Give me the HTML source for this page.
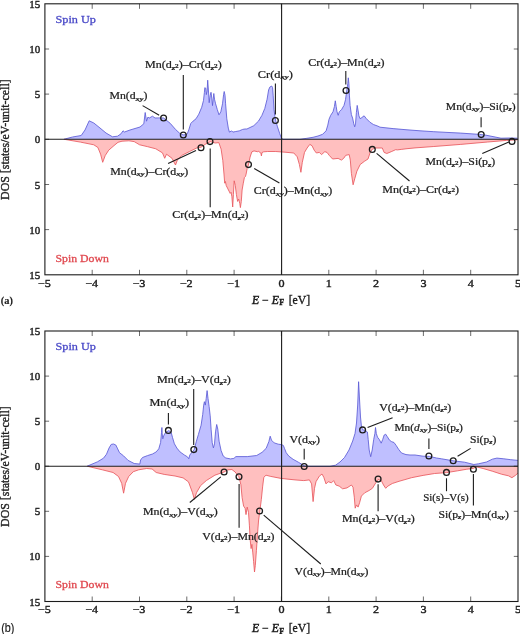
<!DOCTYPE html>
<html><head><meta charset="utf-8"><title>DOS</title>
<style>
html,body{margin:0;padding:0;background:#fff;}
body{width:520px;height:634px;overflow:hidden;}
svg{display:block;filter:blur(0.35px);}
text{font-family:"Liberation Serif",serif;fill:#1c1c1c;stroke:#1c1c1c;stroke-width:0.3px;}
.t{font-size:11px;stroke-width:0.4px;}
.l{font-size:9.8px;stroke-width:0.22px;}
.s{font-size:7px;font-style:italic;font-weight:bold;}
.ss{font-size:5.8px;font-style:normal;font-weight:bold;}
.ax{font-size:11.8px;stroke-width:0.35px;}
.sp{font-size:11.2px;}
.i{font-style:italic;}
.ib{font-style:italic;stroke-width:0.5px;}
</style></head><body>
<svg width="520" height="634" viewBox="0 0 520 634">
<rect width="520" height="634" fill="#fff"/>

<path d="M63.8 139.3L63.8 139.3L72.5 137.0L81.2 135.5L85.0 130.0L89.2 120.8L93.8 123.0L100.0 128.0L106.0 133.0L112.5 136.8L117.5 136.2L121.0 133.8L123.0 130.8L124.5 132.0L130.0 130.0L140.0 127.0L143.8 123.8L145.2 112.5L146.5 121.2L148.0 117.0L149.0 118.2L152.5 116.2L155.0 118.0L158.8 117.9L163.6 118.0L170.2 123.3L175.6 129.5L179.6 133.2L183.1 134.9L186.6 134.6L187.6 133.0L189.0 129.2L190.8 123.4L193.1 121.1L196.0 118.8L198.8 114.2L201.7 107.3L203.5 100.4L204.4 92.3L204.8 87.7L205.8 88.3L206.3 94.6L207.1 91.1L207.7 80.2L208.4 90.0L209.2 102.7L210.1 95.8L211.0 92.3L211.8 98.1L212.5 105.6L213.3 98.1L213.8 93.5L214.5 99.2L215.6 103.8L217.3 109.6L219.0 114.8L220.8 111.9L222.5 103.8L223.6 94.6L224.2 91.5L225.0 95.2L225.6 103.8L226.8 118.8L228.3 128.1L229.4 132.1L231.7 130.9L232.9 132.1L235.8 131.5L239.2 130.9L242.7 129.4L245.0 129.0L246.9 129.0L253.8 125.7L258.5 121.1L261.9 115.4L264.8 108.4L267.1 99.2L268.6 90.0L269.8 87.1L271.7 86.0L272.6 87.7L273.2 95.8L274.0 109.6L274.9 116.5L275.8 121.1L277.5 126.9L279.8 133.8L281.3 137.9L283.0 139.3L300.0 139.3L306.9 138.3L313.0 137.3L318.0 136.0L322.6 134.3L326.1 130.8L327.8 125.1L329.0 119.3L330.7 115.3L333.0 111.8L334.4 106.6L335.3 100.8L336.2 106.6L337.0 111.8L338.2 115.3L339.3 111.8L341.6 109.5L344.0 105.4L345.5 99.7L346.3 93.9L347.8 83.5L348.3 77.8L348.9 83.5L349.4 95.1L350.1 105.4L351.4 114.7L352.6 118.1L353.8 123.9L354.7 126.8L355.5 123.9L356.4 112.4L357.2 105.4L358.0 110.1L358.9 115.8L360.1 118.7L361.8 117.6L364.1 115.8L366.4 118.7L369.9 122.2L373.4 124.5L378.0 126.2L380.0 127.2L393.1 128.6L407.0 129.8L420.0 130.8L433.8 131.7L447.0 132.4L460.8 133.1L479.6 134.4L486.0 135.2L493.0 136.6L501.0 138.2L509.0 138.0L517.5 138.2L517.5 139.3 Z" fill="#bfbfff" stroke="none"/>
<path d="M64.2 139.3L64.2 139.3L80.4 142.1L93.8 144.8L97.9 147.5L100.6 154.2L102.7 162.3L105.2 155.6L108.7 150.2L114.0 145.6L118.0 142.3L122.0 141.2L128.9 140.8L134.2 141.6L139.6 144.8L147.7 146.7L155.8 148.8L162.5 152.9L164.7 158.3L166.5 154.2L172.0 158.3L175.5 165.0L177.4 160.0L181.5 155.6L189.6 151.5L197.7 147.5L201.0 147.2L205.8 144.0L210.3 141.6L215.2 143.0L218.8 142.6L221.1 149.1L222.8 160.5L223.9 173.0L224.7 183.2L225.4 181.5L226.2 185.5L227.9 188.9L230.2 193.4L231.1 192.3L231.9 196.8L232.7 207.0L233.4 194.5L234.2 180.8L235.3 185.5L236.4 194.5L237.6 201.4L238.7 199.1L239.8 203.6L240.4 207.6L241.3 201.4L242.1 190.0L243.3 183.2L244.4 177.5L245.5 176.4L246.1 174.1L247.2 168.4L248.4 165.0L250.1 157.0L251.8 151.9L254.0 150.9L257.5 151.7L258.6 151.4L260.9 153.1L261.4 155.9L262.0 152.5L263.7 151.8L267.7 151.5L275.8 151.5L285.0 152.2L293.8 153.0L297.2 156.8L299.4 164.5L300.9 172.3L302.3 162.3L304.5 152.4L307.1 148.0L309.8 144.4L312.0 145.7L314.2 150.2L316.4 153.0L319.3 152.4L321.5 154.6L324.8 151.7L327.0 152.4L329.2 155.3L332.6 159.0L338.1 158.4L341.4 160.1L343.6 158.4L345.8 155.3L349.2 154.6L350.3 160.1L351.4 173.4L353.1 184.8L354.7 178.9L356.9 171.2L360.2 164.5L364.6 161.2L368.0 159.0L370.2 152.4L372.4 149.1L375.7 148.0L382.3 148.0L384.1 152.4L386.8 153.5L391.2 151.7L395.6 149.7L397.5 149.9L401.2 149.4L407.0 148.7L415.0 147.9L433.8 146.5L460.8 144.4L487.7 142.0L506.5 140.4L517.5 139.8L517.5 139.3 Z" fill="#ffbfbf" stroke="none"/>
<path d="M63.8 139.3L72.5 137.0L81.2 135.5L85.0 130.0L89.2 120.8L93.8 123.0L100.0 128.0L106.0 133.0L112.5 136.8L117.5 136.2L121.0 133.8L123.0 130.8L124.5 132.0L130.0 130.0L140.0 127.0L143.8 123.8L145.2 112.5L146.5 121.2L148.0 117.0L149.0 118.2L152.5 116.2L155.0 118.0L158.8 117.9L163.6 118.0L170.2 123.3L175.6 129.5L179.6 133.2L183.1 134.9L186.6 134.6L187.6 133.0L189.0 129.2L190.8 123.4L193.1 121.1L196.0 118.8L198.8 114.2L201.7 107.3L203.5 100.4L204.4 92.3L204.8 87.7L205.8 88.3L206.3 94.6L207.1 91.1L207.7 80.2L208.4 90.0L209.2 102.7L210.1 95.8L211.0 92.3L211.8 98.1L212.5 105.6L213.3 98.1L213.8 93.5L214.5 99.2L215.6 103.8L217.3 109.6L219.0 114.8L220.8 111.9L222.5 103.8L223.6 94.6L224.2 91.5L225.0 95.2L225.6 103.8L226.8 118.8L228.3 128.1L229.4 132.1L231.7 130.9L232.9 132.1L235.8 131.5L239.2 130.9L242.7 129.4L245.0 129.0L246.9 129.0L253.8 125.7L258.5 121.1L261.9 115.4L264.8 108.4L267.1 99.2L268.6 90.0L269.8 87.1L271.7 86.0L272.6 87.7L273.2 95.8L274.0 109.6L274.9 116.5L275.8 121.1L277.5 126.9L279.8 133.8L281.3 137.9L283.0 139.3L300.0 139.3L306.9 138.3L313.0 137.3L318.0 136.0L322.6 134.3L326.1 130.8L327.8 125.1L329.0 119.3L330.7 115.3L333.0 111.8L334.4 106.6L335.3 100.8L336.2 106.6L337.0 111.8L338.2 115.3L339.3 111.8L341.6 109.5L344.0 105.4L345.5 99.7L346.3 93.9L347.8 83.5L348.3 77.8L348.9 83.5L349.4 95.1L350.1 105.4L351.4 114.7L352.6 118.1L353.8 123.9L354.7 126.8L355.5 123.9L356.4 112.4L357.2 105.4L358.0 110.1L358.9 115.8L360.1 118.7L361.8 117.6L364.1 115.8L366.4 118.7L369.9 122.2L373.4 124.5L378.0 126.2L380.0 127.2L393.1 128.6L407.0 129.8L420.0 130.8L433.8 131.7L447.0 132.4L460.8 133.1L479.6 134.4L486.0 135.2L493.0 136.6L501.0 138.2L509.0 138.0L517.5 138.2" fill="none" stroke="#5c5cd6" stroke-width="0.85" stroke-linejoin="round"/>
<path d="M64.2 139.3L80.4 142.1L93.8 144.8L97.9 147.5L100.6 154.2L102.7 162.3L105.2 155.6L108.7 150.2L114.0 145.6L118.0 142.3L122.0 141.2L128.9 140.8L134.2 141.6L139.6 144.8L147.7 146.7L155.8 148.8L162.5 152.9L164.7 158.3L166.5 154.2L172.0 158.3L175.5 165.0L177.4 160.0L181.5 155.6L189.6 151.5L197.7 147.5L201.0 147.2L205.8 144.0L210.3 141.6L215.2 143.0L218.8 142.6L221.1 149.1L222.8 160.5L223.9 173.0L224.7 183.2L225.4 181.5L226.2 185.5L227.9 188.9L230.2 193.4L231.1 192.3L231.9 196.8L232.7 207.0L233.4 194.5L234.2 180.8L235.3 185.5L236.4 194.5L237.6 201.4L238.7 199.1L239.8 203.6L240.4 207.6L241.3 201.4L242.1 190.0L243.3 183.2L244.4 177.5L245.5 176.4L246.1 174.1L247.2 168.4L248.4 165.0L250.1 157.0L251.8 151.9L254.0 150.9L257.5 151.7L258.6 151.4L260.9 153.1L261.4 155.9L262.0 152.5L263.7 151.8L267.7 151.5L275.8 151.5L285.0 152.2L293.8 153.0L297.2 156.8L299.4 164.5L300.9 172.3L302.3 162.3L304.5 152.4L307.1 148.0L309.8 144.4L312.0 145.7L314.2 150.2L316.4 153.0L319.3 152.4L321.5 154.6L324.8 151.7L327.0 152.4L329.2 155.3L332.6 159.0L338.1 158.4L341.4 160.1L343.6 158.4L345.8 155.3L349.2 154.6L350.3 160.1L351.4 173.4L353.1 184.8L354.7 178.9L356.9 171.2L360.2 164.5L364.6 161.2L368.0 159.0L370.2 152.4L372.4 149.1L375.7 148.0L382.3 148.0L384.1 152.4L386.8 153.5L391.2 151.7L395.6 149.7L397.5 149.9L401.2 149.4L407.0 148.7L415.0 147.9L433.8 146.5L460.8 144.4L487.7 142.0L506.5 140.4L517.5 139.8" fill="none" stroke="#e8595f" stroke-width="0.85" stroke-linejoin="round"/>
<path d="M44.9 139.3H518.0 M281.6 3.8V274.8" stroke="#1c1c1c" stroke-width="1.1" fill="none"/>
<rect x="44.9" y="3.8" width="473.1" height="271.0" fill="none" stroke="#1c1c1c" stroke-width="1.1"/>
<path d="M92.2 274.8v-5 M92.2 3.8v5 M139.5 274.8v-5 M139.5 3.8v5 M186.8 274.8v-5 M186.8 3.8v5 M234.1 274.8v-5 M234.1 3.8v5 M281.4 274.8v-5 M281.4 3.8v5 M328.8 274.8v-5 M328.8 3.8v5 M376.1 274.8v-5 M376.1 3.8v5 M423.4 274.8v-5 M423.4 3.8v5 M470.7 274.8v-5 M470.7 3.8v5 M44.9 49.0h4.2 M518.0 49.0h-4.2 M44.9 94.1h4.2 M518.0 94.1h-4.2 M44.9 139.3h4.2 M518.0 139.3h-4.2 M44.9 184.5h4.2 M518.0 184.5h-4.2 M44.9 229.6h4.2 M518.0 229.6h-4.2 " stroke="#1c1c1c" stroke-width="0.65" fill="none"/>
<g transform="translate(44.3 286.7) scale(1.1 1)"><text class="t" text-anchor="middle">−5</text></g>
<g transform="translate(91.6 286.7) scale(1.1 1)"><text class="t" text-anchor="middle">−4</text></g>
<g transform="translate(138.9 286.7) scale(1.1 1)"><text class="t" text-anchor="middle">−3</text></g>
<g transform="translate(186.2 286.7) scale(1.1 1)"><text class="t" text-anchor="middle">−2</text></g>
<g transform="translate(233.5 286.7) scale(1.1 1)"><text class="t" text-anchor="middle">−1</text></g>
<g transform="translate(281.4 286.7) scale(1.1 1)"><text class="t" text-anchor="middle">0</text></g>
<g transform="translate(328.8 286.7) scale(1.1 1)"><text class="t" text-anchor="middle">1</text></g>
<g transform="translate(376.1 286.7) scale(1.1 1)"><text class="t" text-anchor="middle">2</text></g>
<g transform="translate(423.4 286.7) scale(1.1 1)"><text class="t" text-anchor="middle">3</text></g>
<g transform="translate(470.7 286.7) scale(1.1 1)"><text class="t" text-anchor="middle">4</text></g>
<g transform="translate(518.0 286.7) scale(1.1 1)"><text class="t" text-anchor="middle">5</text></g>
<text class="t" x="40.3" y="7.8" text-anchor="end">15</text>
<text class="t" x="40.3" y="53.0" text-anchor="end">10</text>
<text class="t" x="40.3" y="98.1" text-anchor="end">5</text>
<text class="t" x="40.3" y="143.3" text-anchor="end">0</text>
<text class="t" x="40.3" y="188.5" text-anchor="end">5</text>
<text class="t" x="40.3" y="233.6" text-anchor="end">10</text>
<text class="t" x="40.3" y="278.8" text-anchor="end">15</text>
<g transform="translate(9.3 199.9) rotate(-90) scale(1.0069 1)"><text id="t1" class="ax">DOS [states/eV-unit-cell]</text></g>
<g transform="translate(252.00 303.60) scale(0.9942 1)"><text id="t2" class="ax"><tspan class="ib">E</tspan> − <tspan class="ib">E</tspan><tspan dy="1.8" dx="0.4" font-size="8.2" font-weight="bold">F</tspan><tspan dy="-1.8" dx="1.6"> [eV]</tspan></text></g>
<g transform="translate(55.50 23.00) scale(1.0911 1)"><text id="t3" class="sp" style="fill:#4a4ac8;stroke:#4a4ac8">Spin Up</text></g>
<g transform="translate(55.50 261.50) scale(1.0535 1)"><text id="t4" class="sp" style="fill:#e0484f;stroke:#e0484f">Spin Down</text></g>
<g transform="translate(0.80 304.00) scale(0.9420 1)"><text id="t5" class="t" font-weight="bold" style="stroke-width:0.15px">(a)</text></g>
<circle cx="163.6" cy="118.0" r="2.9" fill="none" stroke="#1c1c1c" stroke-width="1.3"/>
<circle cx="183.3" cy="135.0" r="2.9" fill="none" stroke="#1c1c1c" stroke-width="1.3"/>
<circle cx="275.4" cy="120.5" r="2.9" fill="none" stroke="#1c1c1c" stroke-width="1.3"/>
<circle cx="346.0" cy="90.5" r="2.9" fill="none" stroke="#1c1c1c" stroke-width="1.3"/>
<circle cx="481.2" cy="134.6" r="2.9" fill="none" stroke="#1c1c1c" stroke-width="1.3"/>
<circle cx="512.0" cy="141.4" r="2.9" fill="none" stroke="#1c1c1c" stroke-width="1.3"/>
<circle cx="201.0" cy="147.8" r="2.9" fill="none" stroke="#1c1c1c" stroke-width="1.3"/>
<circle cx="210.0" cy="141.6" r="2.9" fill="none" stroke="#1c1c1c" stroke-width="1.3"/>
<circle cx="248.5" cy="164.6" r="2.9" fill="none" stroke="#1c1c1c" stroke-width="1.3"/>
<circle cx="372.3" cy="149.4" r="2.9" fill="none" stroke="#1c1c1c" stroke-width="1.3"/>
<path d="M142.6 105.6L159.2 115.3" stroke="#1c1c1c" stroke-width="1.1" fill="none"/>
<path d="M183.3 75.0L183.3 129.5" stroke="#1c1c1c" stroke-width="1.1" fill="none"/>
<path d="M275.4 83.4L275.4 114.5" stroke="#1c1c1c" stroke-width="1.1" fill="none"/>
<path d="M345.8 71.0L345.8 84.5" stroke="#1c1c1c" stroke-width="1.1" fill="none"/>
<path d="M481.1 117.2L481.1 127.2" stroke="#1c1c1c" stroke-width="1.1" fill="none"/>
<path d="M482.3 153.4L508.9 142.1" stroke="#1c1c1c" stroke-width="1.1" fill="none"/>
<path d="M168.1 163.5L196.0 150.4" stroke="#1c1c1c" stroke-width="1.1" fill="none"/>
<path d="M210.2 148.5L210.2 207.3" stroke="#1c1c1c" stroke-width="1.1" fill="none"/>
<path d="M254.2 168.4L279.4 183.0" stroke="#1c1c1c" stroke-width="1.1" fill="none"/>
<path d="M376.6 153.3L409.5 181.0" stroke="#1c1c1c" stroke-width="1.1" fill="none"/>
<g transform="translate(109.50 99.30) scale(1.2004 1)"><text id="t6" class="l">Mn(d<tspan class="s" dy="1.6">xy</tspan><tspan dy="-1.6">)</tspan></text></g>
<g transform="translate(145.00 68.20) scale(1.2297 1)"><text id="t7" class="l">Mn(d<tspan class="s" dy="1.6">z</tspan><tspan class="s ss" dy="-1.7">2</tspan><tspan dy="0.1">)</tspan>–Cr(d<tspan class="s" dy="1.6">z</tspan><tspan class="s ss" dy="-1.7">2</tspan><tspan dy="0.1">)</tspan></text></g>
<g transform="translate(257.80 77.50) scale(1.2606 1)"><text id="t8" class="l">Cr(d<tspan class="s" dy="1.6">xy</tspan><tspan dy="-1.6">)</tspan></text></g>
<g transform="translate(308.30 66.20) scale(1.2217 1)"><text id="t9" class="l">Cr(d<tspan class="s" dy="1.6">z</tspan><tspan class="s ss" dy="-1.7">2</tspan><tspan dy="0.1">)</tspan>–Mn(d<tspan class="s" dy="1.6">z</tspan><tspan class="s ss" dy="-1.7">2</tspan><tspan dy="0.1">)</tspan></text></g>
<g transform="translate(445.80 109.60) scale(1.1886 1)"><text id="t10" class="l">Mn(d<tspan class="s" dy="1.6">xy</tspan><tspan dy="-1.6">)</tspan>–Si(p<tspan class="s" dy="1.6">z</tspan><tspan dy="-1.6">)</tspan></text></g>
<g transform="translate(425.60 165.00) scale(1.2033 1)"><text id="t11" class="l">Mn(d<tspan class="s" dy="1.6">z</tspan><tspan class="s ss" dy="-1.7">2</tspan><tspan dy="0.1">)</tspan>–Si(p<tspan class="s" dy="1.6">z</tspan><tspan dy="-1.6">)</tspan></text></g>
<g transform="translate(110.20 174.50) scale(1.2129 1)"><text id="t12" class="l">Mn(d<tspan class="s" dy="1.6">xy</tspan><tspan dy="-1.6">)</tspan>–Cr(d<tspan class="s" dy="1.6">xy</tspan><tspan dy="-1.6">)</tspan></text></g>
<g transform="translate(172.30 218.20) scale(1.2217 1)"><text id="t13" class="l">Cr(d<tspan class="s" dy="1.6">z</tspan><tspan class="s ss" dy="-1.7">2</tspan><tspan dy="0.1">)</tspan>–Mn(d<tspan class="s" dy="1.6">z</tspan><tspan class="s ss" dy="-1.7">2</tspan><tspan dy="0.1">)</tspan></text></g>
<g transform="translate(253.80 194.10) scale(1.2176 1)"><text id="t14" class="l">Cr(d<tspan class="s" dy="1.6">xy</tspan><tspan dy="-1.6">)</tspan>–Mn(d<tspan class="s" dy="1.6">xy</tspan><tspan dy="-1.6">)</tspan></text></g>
<g transform="translate(382.20 192.50) scale(1.2313 1)"><text id="t15" class="l">Mn(d<tspan class="s" dy="1.6">z</tspan><tspan class="s ss" dy="-1.7">2</tspan><tspan dy="0.1">)</tspan>–Cr(d<tspan class="s" dy="1.6">z</tspan><tspan class="s ss" dy="-1.7">2</tspan><tspan dy="0.1">)</tspan></text></g>
<path d="M86.9 466.3L86.9 466.3L97.3 461.9L103.5 458.2L106.5 454.2L109.0 448.1L111.2 444.4L113.5 444.0L115.8 445.0L117.3 448.1L119.5 452.7L123.5 455.8L128.1 460.4L134.2 463.5L139.8 464.1L140.6 460.0L142.5 457.5L147.5 455.6L152.5 454.0L156.2 451.9L158.8 448.8L160.6 442.5L161.5 432.5L161.9 427.5L162.2 433.8L162.8 438.8L164.0 435.0L165.6 432.5L168.8 430.6L171.2 432.5L172.5 437.5L174.4 443.8L176.9 448.1L180.0 451.9L184.4 455.0L187.5 456.9L188.8 458.8L189.8 455.0L191.7 452.6L194.1 449.9L196.4 441.2L198.4 434.5L201.1 425.2L202.7 414.5L203.7 405.1L204.4 401.7L205.3 405.1L206.2 398.4L207.1 390.6L208.0 398.4L209.1 406.4L210.2 415.8L211.1 429.2L212.2 442.6L213.4 447.9L214.5 443.9L215.5 431.9L216.7 424.5L217.8 429.2L219.1 441.2L221.1 450.6L223.2 456.0L225.8 458.0L230.5 458.9L233.9 458.4L235.9 456.6L247.3 456.6L256.7 455.5L262.1 452.3L266.2 448.3L268.9 441.5L270.2 436.2L271.5 440.2L274.2 442.9L278.3 444.2L281.4 444.6L283.3 445.4L284.5 448.4L286.2 452.7L288.8 456.1L293.1 459.3L298.3 462.2L302.7 464.8L304.1 465.8L310.0 466.3L330.0 466.3L335.6 465.2L340.0 462.0L344.5 457.5L349.0 450.0L352.7 441.0L355.0 433.5L356.5 423.0L357.7 405.0L358.6 381.7L359.5 399.0L360.5 417.0L361.4 426.0L362.5 429.7L365.5 430.5L367.4 432.0L368.2 439.5L369.2 450.0L370.7 456.7L372.2 450.0L373.7 439.5L374.9 433.5L375.5 427.5L376.3 433.5L377.5 437.2L379.3 439.5L381.2 443.2L382.7 439.5L384.2 435.0L385.7 434.2L387.2 436.5L389.5 440.2L391.7 441.7L394.0 442.5L396.2 445.5L398.5 449.2L401.5 453.0L406.0 454.6L410.0 455.0L415.0 455.0L423.1 456.2L429.3 456.4L436.5 458.0L441.5 458.8L453.1 460.8L464.6 462.2L473.8 464.5L478.5 463.8L486.5 462.0L492.3 459.2L496.9 458.1L503.8 458.8L510.8 459.7L518.0 460.4L518.0 466.3 Z" fill="#bfbfff" stroke="none"/>
<path d="M87.5 466.3L87.5 466.3L102.3 469.8L113.1 472.5L118.5 476.5L121.7 483.3L123.6 493.2L125.5 483.3L128.7 476.5L133.3 471.7L138.7 469.8L146.7 468.5L152.1 469.0L156.2 472.5L164.2 474.4L175.0 476.0L183.1 477.9L188.5 481.9L192.5 492.7L194.4 499.4L196.5 492.7L200.6 485.6L206.4 480.5L214.9 475.2L224.0 472.0L227.7 469.9L231.9 469.5L235.1 472.0L238.9 476.7L240.9 484.8L242.1 497.6L243.6 506.1L245.1 508.2L246.0 514.6L247.2 507.1L248.5 512.4L249.4 525.2L250.2 540.1L251.1 548.6L251.9 544.4L252.8 552.9L253.6 561.4L254.5 572.0L255.3 565.6L256.4 550.7L257.4 535.9L258.5 521.0L259.8 511.2L261.3 499.7L262.6 486.9L263.8 477.3L266.0 475.2L270.2 476.3L280.9 478.4L295.0 479.9L303.8 480.6L309.4 479.9L311.6 483.9L313.1 501.6L314.5 488.3L316.0 481.7L319.3 476.2L322.0 474.0L323.8 477.3L326.0 483.9L328.2 481.7L331.5 482.8L333.7 480.6L335.9 485.0L339.2 486.1L342.6 488.8L347.0 487.9L351.4 485.0L353.0 487.2L354.3 497.2L355.2 508.2L356.5 504.9L358.1 507.1L359.6 502.7L361.4 496.1L364.7 492.8L369.1 490.5L372.4 488.3L375.1 483.9L378.0 479.5L381.3 480.6L383.5 485.0L385.7 488.3L387.9 486.1L392.3 483.5L399.0 481.3L405.0 479.6L411.5 477.7L423.1 475.4L434.6 473.5L446.6 472.6L457.7 470.8L466.9 469.2L473.4 468.4L476.2 466.8L483.1 468.5L492.3 471.2L501.5 474.2L508.5 475.8L511.9 477.7L515.4 475.4L518.0 473.0L518.0 466.3 Z" fill="#ffbfbf" stroke="none"/>
<path d="M86.9 466.3L97.3 461.9L103.5 458.2L106.5 454.2L109.0 448.1L111.2 444.4L113.5 444.0L115.8 445.0L117.3 448.1L119.5 452.7L123.5 455.8L128.1 460.4L134.2 463.5L139.8 464.1L140.6 460.0L142.5 457.5L147.5 455.6L152.5 454.0L156.2 451.9L158.8 448.8L160.6 442.5L161.5 432.5L161.9 427.5L162.2 433.8L162.8 438.8L164.0 435.0L165.6 432.5L168.8 430.6L171.2 432.5L172.5 437.5L174.4 443.8L176.9 448.1L180.0 451.9L184.4 455.0L187.5 456.9L188.8 458.8L189.8 455.0L191.7 452.6L194.1 449.9L196.4 441.2L198.4 434.5L201.1 425.2L202.7 414.5L203.7 405.1L204.4 401.7L205.3 405.1L206.2 398.4L207.1 390.6L208.0 398.4L209.1 406.4L210.2 415.8L211.1 429.2L212.2 442.6L213.4 447.9L214.5 443.9L215.5 431.9L216.7 424.5L217.8 429.2L219.1 441.2L221.1 450.6L223.2 456.0L225.8 458.0L230.5 458.9L233.9 458.4L235.9 456.6L247.3 456.6L256.7 455.5L262.1 452.3L266.2 448.3L268.9 441.5L270.2 436.2L271.5 440.2L274.2 442.9L278.3 444.2L281.4 444.6L283.3 445.4L284.5 448.4L286.2 452.7L288.8 456.1L293.1 459.3L298.3 462.2L302.7 464.8L304.1 465.8L310.0 466.3L330.0 466.3L335.6 465.2L340.0 462.0L344.5 457.5L349.0 450.0L352.7 441.0L355.0 433.5L356.5 423.0L357.7 405.0L358.6 381.7L359.5 399.0L360.5 417.0L361.4 426.0L362.5 429.7L365.5 430.5L367.4 432.0L368.2 439.5L369.2 450.0L370.7 456.7L372.2 450.0L373.7 439.5L374.9 433.5L375.5 427.5L376.3 433.5L377.5 437.2L379.3 439.5L381.2 443.2L382.7 439.5L384.2 435.0L385.7 434.2L387.2 436.5L389.5 440.2L391.7 441.7L394.0 442.5L396.2 445.5L398.5 449.2L401.5 453.0L406.0 454.6L410.0 455.0L415.0 455.0L423.1 456.2L429.3 456.4L436.5 458.0L441.5 458.8L453.1 460.8L464.6 462.2L473.8 464.5L478.5 463.8L486.5 462.0L492.3 459.2L496.9 458.1L503.8 458.8L510.8 459.7L518.0 460.4" fill="none" stroke="#5c5cd6" stroke-width="0.85" stroke-linejoin="round"/>
<path d="M87.5 466.3L102.3 469.8L113.1 472.5L118.5 476.5L121.7 483.3L123.6 493.2L125.5 483.3L128.7 476.5L133.3 471.7L138.7 469.8L146.7 468.5L152.1 469.0L156.2 472.5L164.2 474.4L175.0 476.0L183.1 477.9L188.5 481.9L192.5 492.7L194.4 499.4L196.5 492.7L200.6 485.6L206.4 480.5L214.9 475.2L224.0 472.0L227.7 469.9L231.9 469.5L235.1 472.0L238.9 476.7L240.9 484.8L242.1 497.6L243.6 506.1L245.1 508.2L246.0 514.6L247.2 507.1L248.5 512.4L249.4 525.2L250.2 540.1L251.1 548.6L251.9 544.4L252.8 552.9L253.6 561.4L254.5 572.0L255.3 565.6L256.4 550.7L257.4 535.9L258.5 521.0L259.8 511.2L261.3 499.7L262.6 486.9L263.8 477.3L266.0 475.2L270.2 476.3L280.9 478.4L295.0 479.9L303.8 480.6L309.4 479.9L311.6 483.9L313.1 501.6L314.5 488.3L316.0 481.7L319.3 476.2L322.0 474.0L323.8 477.3L326.0 483.9L328.2 481.7L331.5 482.8L333.7 480.6L335.9 485.0L339.2 486.1L342.6 488.8L347.0 487.9L351.4 485.0L353.0 487.2L354.3 497.2L355.2 508.2L356.5 504.9L358.1 507.1L359.6 502.7L361.4 496.1L364.7 492.8L369.1 490.5L372.4 488.3L375.1 483.9L378.0 479.5L381.3 480.6L383.5 485.0L385.7 488.3L387.9 486.1L392.3 483.5L399.0 481.3L405.0 479.6L411.5 477.7L423.1 475.4L434.6 473.5L446.6 472.6L457.7 470.8L466.9 469.2L473.4 468.4L476.2 466.8L483.1 468.5L492.3 471.2L501.5 474.2L508.5 475.8L511.9 477.7L515.4 475.4L518.0 473.0" fill="none" stroke="#e8595f" stroke-width="0.85" stroke-linejoin="round"/>
<path d="M44.9 466.3H518.0 M281.6 331.0V601.5" stroke="#1c1c1c" stroke-width="1.1" fill="none"/>
<rect x="44.9" y="331.0" width="473.1" height="270.5" fill="none" stroke="#1c1c1c" stroke-width="1.1"/>
<path d="M92.2 601.5v-5 M92.2 331.0v5 M139.5 601.5v-5 M139.5 331.0v5 M186.8 601.5v-5 M186.8 331.0v5 M234.1 601.5v-5 M234.1 331.0v5 M281.4 601.5v-5 M281.4 331.0v5 M328.8 601.5v-5 M328.8 331.0v5 M376.1 601.5v-5 M376.1 331.0v5 M423.4 601.5v-5 M423.4 331.0v5 M470.7 601.5v-5 M470.7 331.0v5 M44.9 376.1h4.2 M518.0 376.1h-4.2 M44.9 421.2h4.2 M518.0 421.2h-4.2 M44.9 466.2h4.2 M518.0 466.2h-4.2 M44.9 511.3h4.2 M518.0 511.3h-4.2 M44.9 556.4h4.2 M518.0 556.4h-4.2 " stroke="#1c1c1c" stroke-width="0.65" fill="none"/>
<g transform="translate(44.3 613.4) scale(1.1 1)"><text class="t" text-anchor="middle">−5</text></g>
<g transform="translate(91.6 613.4) scale(1.1 1)"><text class="t" text-anchor="middle">−4</text></g>
<g transform="translate(138.9 613.4) scale(1.1 1)"><text class="t" text-anchor="middle">−3</text></g>
<g transform="translate(186.2 613.4) scale(1.1 1)"><text class="t" text-anchor="middle">−2</text></g>
<g transform="translate(233.5 613.4) scale(1.1 1)"><text class="t" text-anchor="middle">−1</text></g>
<g transform="translate(281.4 613.4) scale(1.1 1)"><text class="t" text-anchor="middle">0</text></g>
<g transform="translate(328.8 613.4) scale(1.1 1)"><text class="t" text-anchor="middle">1</text></g>
<g transform="translate(376.1 613.4) scale(1.1 1)"><text class="t" text-anchor="middle">2</text></g>
<g transform="translate(423.4 613.4) scale(1.1 1)"><text class="t" text-anchor="middle">3</text></g>
<g transform="translate(470.7 613.4) scale(1.1 1)"><text class="t" text-anchor="middle">4</text></g>
<g transform="translate(518.0 613.4) scale(1.1 1)"><text class="t" text-anchor="middle">5</text></g>
<text class="t" x="40.3" y="335.0" text-anchor="end">15</text>
<text class="t" x="40.3" y="380.1" text-anchor="end">10</text>
<text class="t" x="40.3" y="425.2" text-anchor="end">5</text>
<text class="t" x="40.3" y="470.2" text-anchor="end">0</text>
<text class="t" x="40.3" y="515.3" text-anchor="end">5</text>
<text class="t" x="40.3" y="560.4" text-anchor="end">10</text>
<text class="t" x="40.3" y="605.5" text-anchor="end">15</text>
<g transform="translate(9.3 526.9) rotate(-90) scale(1.0069 1)"><text id="t16" class="ax">DOS [states/eV-unit-cell]</text></g>
<g transform="translate(252.00 631.90) scale(0.9942 1)"><text id="t17" class="ax"><tspan class="ib">E</tspan> − <tspan class="ib">E</tspan><tspan dy="1.8" dx="0.4" font-size="8.2" font-weight="bold">F</tspan><tspan dy="-1.8" dx="1.6"> [eV]</tspan></text></g>
<g transform="translate(55.50 350.00) scale(1.0911 1)"><text id="t18" class="sp" style="fill:#4a4ac8;stroke:#4a4ac8">Spin Up</text></g>
<g transform="translate(55.50 588.30) scale(1.0535 1)"><text id="t19" class="sp" style="fill:#e0484f;stroke:#e0484f">Spin Down</text></g>
<g transform="translate(1.20 632.40) scale(0.8997 1)"><text id="t20" class="t" style="font-family:'Liberation Sans',sans-serif;font-size:12px;stroke-width:0.2px">(b)</text></g>
<circle cx="168.4" cy="430.4" r="2.9" fill="none" stroke="#1c1c1c" stroke-width="1.3"/>
<circle cx="193.8" cy="449.6" r="2.9" fill="none" stroke="#1c1c1c" stroke-width="1.3"/>
<circle cx="304.2" cy="466.5" r="2.9" fill="none" stroke="#1c1c1c" stroke-width="1.3"/>
<circle cx="362.6" cy="429.9" r="2.9" fill="none" stroke="#1c1c1c" stroke-width="1.3"/>
<circle cx="428.9" cy="456.0" r="2.9" fill="none" stroke="#1c1c1c" stroke-width="1.3"/>
<circle cx="453.2" cy="460.8" r="2.9" fill="none" stroke="#1c1c1c" stroke-width="1.3"/>
<circle cx="446.5" cy="472.4" r="2.9" fill="none" stroke="#1c1c1c" stroke-width="1.3"/>
<circle cx="473.4" cy="469.2" r="2.9" fill="none" stroke="#1c1c1c" stroke-width="1.3"/>
<circle cx="224.1" cy="472.0" r="2.9" fill="none" stroke="#1c1c1c" stroke-width="1.3"/>
<circle cx="239.0" cy="476.7" r="2.9" fill="none" stroke="#1c1c1c" stroke-width="1.3"/>
<circle cx="259.6" cy="511.0" r="2.9" fill="none" stroke="#1c1c1c" stroke-width="1.3"/>
<circle cx="378.1" cy="479.1" r="2.9" fill="none" stroke="#1c1c1c" stroke-width="1.3"/>
<path d="M168.4 413.0L168.4 424.5" stroke="#1c1c1c" stroke-width="1.1" fill="none"/>
<path d="M193.7 389.0L193.7 445.0" stroke="#1c1c1c" stroke-width="1.1" fill="none"/>
<path d="M304.2 448.8L304.2 459.5" stroke="#1c1c1c" stroke-width="1.1" fill="none"/>
<path d="M367.6 427.5L392.6 417.8" stroke="#1c1c1c" stroke-width="1.1" fill="none"/>
<path d="M428.9 438.6L428.9 449.0" stroke="#1c1c1c" stroke-width="1.1" fill="none"/>
<path d="M457.6 456.2L470.6 448.4" stroke="#1c1c1c" stroke-width="1.1" fill="none"/>
<path d="M446.5 478.3L446.5 491.2" stroke="#1c1c1c" stroke-width="1.1" fill="none"/>
<path d="M473.4 474.0L473.4 505.5" stroke="#1c1c1c" stroke-width="1.1" fill="none"/>
<path d="M378.1 484.3L378.1 511.3" stroke="#1c1c1c" stroke-width="1.1" fill="none"/>
<path d="M189.8 502.5L220.8 476.8" stroke="#1c1c1c" stroke-width="1.1" fill="none"/>
<path d="M239.1 484.0L239.1 527.8" stroke="#1c1c1c" stroke-width="1.1" fill="none"/>
<path d="M263.7 515.2L320.8 564.0" stroke="#1c1c1c" stroke-width="1.1" fill="none"/>
<g transform="translate(157.00 383.10) scale(1.2371 1)"><text id="t21" class="l">Mn(d<tspan class="s" dy="1.6">z</tspan><tspan class="s ss" dy="-1.7">2</tspan><tspan dy="0.1">)</tspan>–V(d<tspan class="s" dy="1.6">z</tspan><tspan class="s ss" dy="-1.7">2</tspan><tspan dy="0.1">)</tspan></text></g>
<g transform="translate(149.40 406.20) scale(1.2541 1)"><text id="t22" class="l">Mn(d<tspan class="s" dy="1.6">xy</tspan><tspan dy="-1.6">)</tspan></text></g>
<g transform="translate(289.50 442.50) scale(1.2139 1)"><text id="t23" class="l">V(d<tspan class="s" dy="1.6">xy</tspan><tspan dy="-1.6">)</tspan></text></g>
<g transform="translate(379.20 410.50) scale(1.2070 1)"><text id="t24" class="l">V(d<tspan class="s" dy="1.6">z</tspan><tspan class="s ss" dy="-1.7">2</tspan><tspan dy="0.1">)</tspan>–Mn(d<tspan class="s" dy="1.6">z</tspan><tspan class="s ss" dy="-1.7">2</tspan><tspan dy="0.1">)</tspan></text></g>
<g transform="translate(394.50 430.80) scale(1.1632 1)"><text id="t25" class="l">Mn(<tspan class="i">d</tspan><tspan class="s" dy="1.6">xy</tspan><tspan dy="-1.6">)</tspan>–Si(p<tspan class="s" dy="1.6">z</tspan><tspan dy="-1.6">)</tspan></text></g>
<g transform="translate(470.00 442.50) scale(1.1771 1)"><text id="t26" class="l">Si(p<tspan class="s" dy="1.6">z</tspan><tspan dy="-1.6">)</tspan></text></g>
<g transform="translate(423.20 501.00) scale(1.1169 1)"><text id="t27" class="l">Si(s)–V(s)</text></g>
<g transform="translate(438.50 517.80) scale(1.1971 1)"><text id="t28" class="l">Si(p<tspan class="s" dy="1.6">z</tspan><tspan dy="-1.6">)</tspan>–Mn(d<tspan class="s" dy="1.6">xy</tspan><tspan dy="-1.6">)</tspan></text></g>
<g transform="translate(342.00 522.00) scale(1.2187 1)"><text id="t29" class="l">Mn(d<tspan class="s" dy="1.6">z</tspan><tspan class="s ss" dy="-1.7">2</tspan><tspan dy="0.1">)</tspan>–V(d<tspan class="s" dy="1.6">z</tspan><tspan class="s ss" dy="-1.7">2</tspan><tspan dy="0.1">)</tspan></text></g>
<g transform="translate(142.90 515.30) scale(1.2129 1)"><text id="t30" class="l">Mn(d<tspan class="s" dy="1.6">xy</tspan><tspan dy="-1.6">)</tspan>–V(d<tspan class="s" dy="1.6">xy</tspan><tspan dy="-1.6">)</tspan></text></g>
<g transform="translate(202.30 540.00) scale(1.2104 1)"><text id="t31" class="l">V(d<tspan class="s" dy="1.6">z</tspan><tspan class="s ss" dy="-1.7">2</tspan><tspan dy="0.1">)</tspan>–Mn(d<tspan class="s" dy="1.6">z</tspan><tspan class="s ss" dy="-1.7">2</tspan><tspan dy="0.1">)</tspan></text></g>
<g transform="translate(294.60 574.50) scale(1.1983 1)"><text id="t32" class="l">V(d<tspan class="s" dy="1.6">xy</tspan><tspan dy="-1.6">)</tspan>–Mn(d<tspan class="s" dy="1.6">xy</tspan><tspan dy="-1.6">)</tspan></text></g>
</svg></body></html>
